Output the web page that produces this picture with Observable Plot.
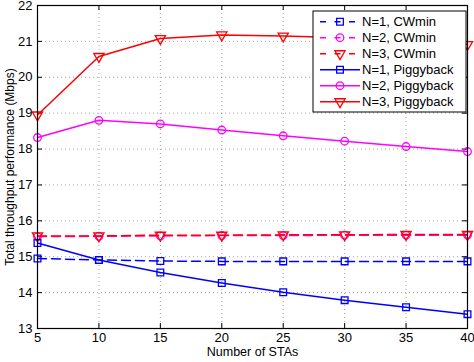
<!DOCTYPE html>
<html><head><meta charset="utf-8">
<script src="https://cdn.jsdelivr.net/npm/d3@7"></script>
<script src="https://cdn.jsdelivr.net/npm/@observablehq/plot@0.6"></script>
<style>
body{margin:0;background:#fff;font-family:"Liberation Sans",Arial,sans-serif;}
#wrap{position:relative;width:474px;height:362px;}
#legend{position:absolute;left:0;top:0;}
</style></head><body><div id="wrap"></div>
<script>
const stas = [5, 10, 15, 20, 25, 30, 35, 40];
const n1Cw = [14.95, 14.91, 14.88, 14.87, 14.87, 14.87, 14.87, 14.87];
const n2Cw = [15.56, 15.57, 15.58, 15.59, 15.59, 15.60, 15.60, 15.60];
const n3Cw = [15.58, 15.58, 15.60, 15.60, 15.61, 15.61, 15.62, 15.62];
const n1Pb = [15.38, 14.91, 14.56, 14.27, 14.01, 13.79, 13.59, 13.40];
const n2Pb = [18.32, 18.80, 18.70, 18.53, 18.37, 18.22, 18.07, 17.93];
const n3Pb = [18.95, 20.58, 21.08, 21.18, 21.15, 21.10, 21.05, 20.91];
const seriesNames = ["N=1, CWmin", "N=2, CWmin", "N=3, CWmin", "N=1, Piggyback", "N=2, Piggyback", "N=3, Piggyback"];
const yTicks = [13, 14, 15, 16, 17, 18, 19, 20, 21, 22];
const xLabel = "Number of STAs";
const yLabel = "Total throughput performance (Mbps)";

const seriesValues = [n1Cw, n2Cw, n3Cw, n1Pb, n2Pb, n3Pb];
const styles = [
  {color: "#0000ff", symbol: "square", rotate: 0, dash: "9,5"},
  {color: "#ff00ff", symbol: "circle", rotate: 0, dash: "9,5"},
  {color: "#ff0000", symbol: "triangle", rotate: 180, dash: "9,5"},
  {color: "#0000ff", symbol: "square", rotate: 0, dash: null},
  {color: "#ff00ff", symbol: "circle", rotate: 0, dash: null},
  {color: "#ff0000", symbol: "triangle", rotate: 180, dash: null}
];

const W = 474, H = 362, mL = 37, mR = 7, mT = 5, mB = 34;
const innerH = H - mT - mB;
const gridStyle = {stroke: "#000", strokeOpacity: 0.45, strokeDasharray: "1,3", strokeWidth: 0.8};

const seriesMarks = [];
seriesValues.forEach((vals, i) => {
  const s = styles[i];
  const data = stas.map((x, j) => ({x, y: vals[j]}));
  seriesMarks.push(Plot.line(data, {x: "x", y: "y", stroke: s.color, strokeWidth: 1.5, strokeDasharray: s.dash}));
  seriesMarks.push(Plot.dot(data, {x: "x", y: "y", stroke: s.color, fill: "none", strokeWidth: 1.3, symbol: s.symbol, r: 3.8, rotate: s.rotate}));
});

const chart = Plot.plot({
  width: W, height: H,
  marginLeft: mL, marginRight: mR, marginTop: mT, marginBottom: mB,
  style: {fontFamily: "'Liberation Sans', Arial, sans-serif", fontSize: "13px", background: "#fff", color: "#000", overflow: "visible"},
  x: {domain: [5, 40], ticks: stas},
  y: {domain: [13, 22], ticks: yTicks},
  marks: [
    Plot.gridX(stas, gridStyle),
    Plot.gridY(yTicks, gridStyle),
    Plot.tickX(stas, {x: d => d, stroke: "#000", insetTop: innerH - 5}),
    Plot.tickX(stas, {x: d => d, stroke: "#000", insetBottom: innerH - 5}),
    Plot.tickY(yTicks, {y: d => d, stroke: "#000", insetRight: (W - mL - mR) - 5}),
    Plot.tickY(yTicks, {y: d => d, stroke: "#000", insetLeft: (W - mL - mR) - 5}),
    Plot.axisX({ticks: stas, tickSize: 0, tickPadding: 4, label: null, fontSize: 13}),
    Plot.axisY({ticks: yTicks, tickSize: 0, tickPadding: 5, label: null, fontSize: 13}),
    ...seriesMarks,
    Plot.frame({stroke: "#000", strokeWidth: 1.2}),
    Plot.text([xLabel], {frameAnchor: "bottom", dy: 27.5, fontSize: 12.5}),
    Plot.text([yLabel], {frameAnchor: "left", textAnchor: "middle", dx: -27, dy: 0, rotate: -90, fontSize: 12})
  ]
});
const wrap = document.getElementById("wrap");
wrap.appendChild(chart);

// Legend overlay
const lg = d3.select(wrap).append("svg").attr("id", "legend").attr("width", W).attr("height", H);
const bx = 313, by = 11, bw = 153, bh = 101;
lg.append("rect").attr("x", bx).attr("y", by).attr("width", bw).attr("height", bh)
  .attr("fill", "#fff").attr("stroke", "#000").attr("stroke-width", 1);
seriesNames.forEach((name, i) => {
  const s = styles[i];
  const cy = 21.7 + i * 16;
  lg.append("line").attr("x1", 320).attr("x2", 360).attr("y1", cy).attr("y2", cy)
    .attr("stroke", s.color).attr("stroke-width", 1.5).attr("stroke-dasharray", s.dash ? "6,8.5" : null);
  const sym = s.symbol === "square" ? d3.symbolSquare : s.symbol === "circle" ? d3.symbolCircle : d3.symbolTriangle;
  lg.append("path").attr("d", d3.symbol(sym, Math.PI * 3.8 * 3.8)())
    .attr("transform", `translate(340,${cy}) rotate(${s.rotate})`)
    .attr("fill", "none").attr("stroke", s.color).attr("stroke-width", 1.3);
  lg.append("text").attr("x", 362).attr("y", cy).attr("dy", "0.35em")
    .attr("font-family", "'Liberation Sans', Arial, sans-serif").attr("font-size", 13).text(name);
});
</script></body></html>
